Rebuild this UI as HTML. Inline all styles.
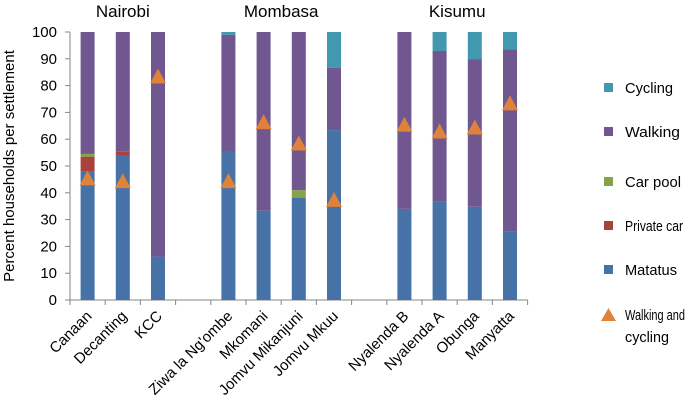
<!DOCTYPE html>
<html><head><meta charset="utf-8"><style>
body{margin:0;background:#fff;}
svg text{font-family:"Liberation Sans",sans-serif;fill:#000;}
</style></head><body>
<svg id="chart" width="685" height="415" viewBox="0 0 685 415" xmlns="http://www.w3.org/2000/svg">
<g id="plot"></g>
</svg>
<script>
const categories = ["Canaan","Decanting","KCC","","Ziwa la Ng'ombe","Mkomani","Jomvu Mikanjuni","Jomvu Mkuu","","Nyalenda B","Nyalenda A","Obunga","Manyatta"];
const matatus   = [47.9,53.9,16.2,null,55.6,33.3,38.2,63.4,null,34,36.8,34.8,25.7];
const privateCar= [5.6,1.4,0,null,0,0,0,0,null,0,0,0,0];
const carPool   = [1,0,0,null,0,0,2.8,0,null,0,0,0,0];
const walking   = [45.5,44.7,83.8,null,43.4,66.7,59,23.3,null,66,56.1,55.1,67.8];
const cycling   = [0,0,0,null,1,0,0,13.3,null,0,7.1,10.1,6.5];
const walkCycle = [45,44,83,null,44,66,58,37,null,65,62.5,64,73];
const yTicks = [0,10,20,30,40,50,60,70,80,90,100];
const groups = ["Nairobi","Mombasa","Kisumu"];
const groupSlots = [1,5.5,10.5];

const NS="http://www.w3.org/2000/svg";
const svg=document.getElementById('chart');
const x0=70, slot=35.2, y0=300, yTop=32;
const y=v=>y0-(v/100)*(y0-yTop);
const xc=i=>x0+slot*(i+0.5);
function el(t,a,p){const e=document.createElementNS(NS,t);for(const k in a)e.setAttribute(k,a[k]);(p||svg).appendChild(e);return e;}

const ya=el('line',{x1:x0,y1:yTop,x2:x0,y2:y0,stroke:'#868686','stroke-width':1});


const xa=el('line',{x1:x0-5,y1:y0,x2:x0+slot*categories.length,y2:y0,stroke:'#868686','stroke-width':1});


yTicks.forEach(t=>{
  const l=el('line',{x1:x0-5,y1:y(t),x2:x0,y2:y(t),stroke:'#868686'});
  
  
  const tx=el('text',{x:x0-13,y:y(t)+5,'text-anchor':'end','font-size':15});
  tx.textContent=t;
  
  
});
for(let i=0;i<=categories.length;i++){
  const l=el('line',{x1:x0+slot*i,y1:y0,x2:x0+slot*i,y2:y0+5,stroke:'#868686'});
  
  
}
const yt=el('text',{x:0,y:0,'text-anchor':'middle','font-size':15,transform:'translate(14,166) rotate(-90)'});
yt.textContent='Percent households per settlement';



groups.forEach((g,i)=>{
  const t=el('text',{x:xc(groupSlots[i]),y:17,'text-anchor':'middle','font-size':17});
  t.textContent=g;
  
  
});

const series=[[matatus,'#4672a8','matatus'],[privateCar,'#a8423e','private-car'],[carPool,'#87a34a','car-pool'],[walking,'#70578f','walking'],[cycling,'#4198af','cycling']];
const bw=14;
categories.forEach((c,i)=>{
  if(matatus[i]===null) return;
  let acc=0;
  series.forEach(([arr,col,nm])=>{
    const v=arr[i]; if(!v) return;
    const r=el('rect',{x:xc(i)-bw/2,y:y(acc+v),width:bw,height:y(acc)-y(acc+v),fill:col});
    
    
    acc+=v;
  });
  const cx=xc(i), cy=y(walkCycle[i]);
  const p=el('polygon',{points:`${cx-8},${cy+6} ${cx+8},${cy+6} ${cx},${cy-9}`,fill:'#e0823a'});
  
  
  const t=el('text',{x:0,y:0,'text-anchor':'end','font-size':15,transform:`translate(${cx+5},${y0+17}) rotate(-45)`});
  t.textContent=c;
  
  
});

const leg=[['Cycling','#4198af',88,48],['Walking','#70578f',132,55],['Car pool','#87a34a',182,56],['Private car','#a8423e',226,58],['Matatus','#4672a8',270,52]];
leg.forEach(([n,c,ly,w])=>{
  const r=el('rect',{x:604,y:ly-5,width:9,height:9,fill:c});
  
  
  const t=el('text',{x:625,y:ly+5,'font-size':15,textLength:w,lengthAdjust:'spacingAndGlyphs'});
  t.textContent=n;
  
  
});
const lp=el('polygon',{points:'601,321 616,321 608.5,308',fill:'#e0823a'});


const lt=el('text',{x:625,y:320,'font-size':15,textLength:60,lengthAdjust:'spacingAndGlyphs'});
lt.textContent='Walking and';


const lt2=el('text',{x:625,y:342,'font-size':15,textLength:44,lengthAdjust:'spacingAndGlyphs'});
lt2.textContent='cycling';


</script>
</body></html>
